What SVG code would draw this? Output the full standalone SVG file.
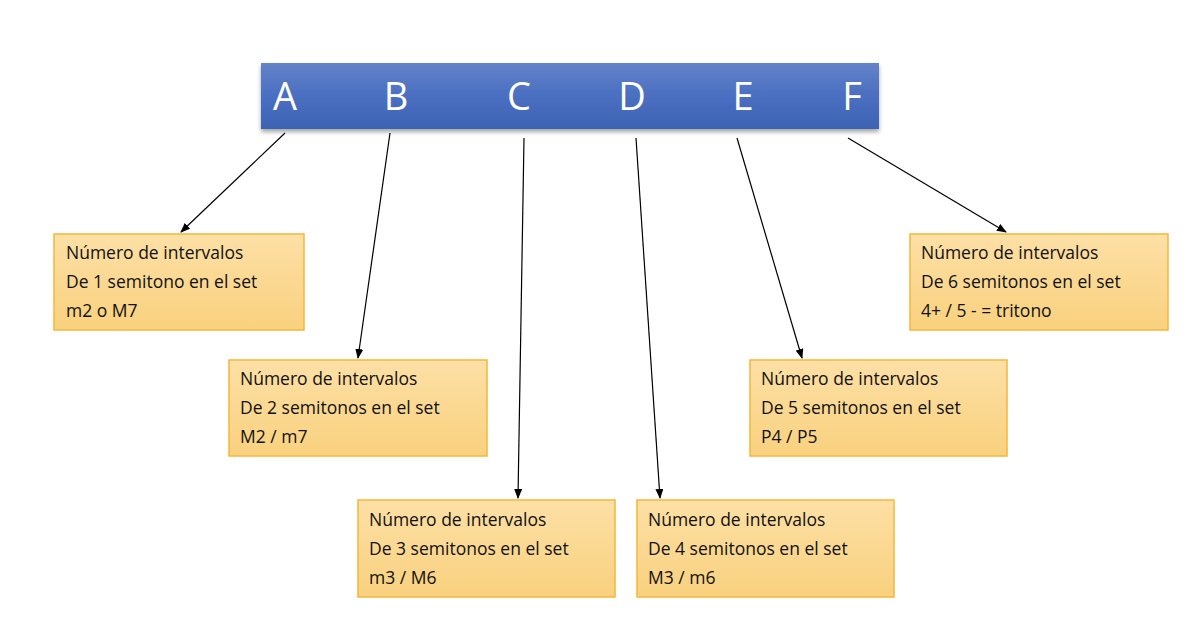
<svg xmlns="http://www.w3.org/2000/svg" width="1200" height="630" viewBox="0 0 1200 630">
<defs>
<linearGradient id="bg" x1="0" y1="0" x2="0" y2="1"><stop offset="0" stop-color="#6383c9"/><stop offset="0.5" stop-color="#4a6fc1"/><stop offset="1" stop-color="#3c63b3"/></linearGradient>
<linearGradient id="og" x1="0" y1="0" x2="0" y2="1"><stop offset="0" stop-color="#fde0a6"/><stop offset="1" stop-color="#f9d17e"/></linearGradient>
<filter id="sh" x="-5%" y="-20%" width="110%" height="150%"><feDropShadow dx="0" dy="3" stdDeviation="2" flood-opacity="0.35"/></filter>
<marker id="ar" markerWidth="10" markerHeight="8" refX="9" refY="4" orient="auto" markerUnits="userSpaceOnUse"><path d="M0,0 L10,4 L0,8 z" fill="#000"/></marker>
</defs>
<style>
.box{fill:url(#og);stroke:#f5b73a;stroke-width:1.5}
.t{font-family:"Open Sans","Noto Sans",sans-serif;font-size:17.5px;fill:#111}
.h{font-family:"Open Sans","Noto Sans",sans-serif;font-size:38px;fill:#fff}
.c{stroke:#000;stroke-width:1.2;fill:none;marker-end:url(#ar)}
</style>
<rect width="1200" height="630" fill="#fff"/>
<g id="header">
<rect x="261" y="63" width="618" height="66" fill="url(#bg)" filter="url(#sh)"/>
<text class="h" x="285" y="110" text-anchor="middle">A</text>
<text class="h" x="396" y="110" text-anchor="middle">B</text>
<text class="h" x="519" y="110" text-anchor="middle">C</text>
<text class="h" x="632" y="110" text-anchor="middle">D</text>
<text class="h" x="743" y="110" text-anchor="middle">E</text>
<text class="h" x="852" y="110" text-anchor="middle">F</text>
</g>
<g id="connectors">
<line class="c" x1="285" y1="133" x2="181" y2="232"/>
<line class="c" x1="390" y1="133" x2="358" y2="358"/>
<line class="c" x1="524" y1="138" x2="518" y2="498"/>
<line class="c" x1="636" y1="138" x2="660" y2="498"/>
<line class="c" x1="737" y1="138" x2="802" y2="358"/>
<line class="c" x1="848" y1="138" x2="1006" y2="232"/>
</g>
<g id="n1"><rect class="box" x="54" y="234" width="250" height="96"/>
<text class="t" x="66" y="259">Número de intervalos</text><text class="t" x="66" y="288">De 1 semitono en el set</text><text class="t" x="66" y="317">m2 o M7</text></g>
<g id="n2"><rect class="box" x="229" y="360" width="258" height="96"/>
<text class="t" x="240" y="385">Número de intervalos</text><text class="t" x="240" y="414">De 2 semitonos en el set</text><text class="t" x="240" y="443">M2 / m7</text></g>
<g id="n3"><rect class="box" x="358" y="500" width="257" height="97"/>
<text class="t" x="369" y="526">Número de intervalos</text><text class="t" x="369" y="555">De 3 semitonos en el set</text><text class="t" x="369" y="584">m3 / M6</text></g>
<g id="n4"><rect class="box" x="637" y="500" width="257" height="97"/>
<text class="t" x="648" y="526">Número de intervalos</text><text class="t" x="648" y="555">De 4 semitonos en el set</text><text class="t" x="648" y="584">M3 / m6</text></g>
<g id="n5"><rect class="box" x="750" y="360" width="257" height="96"/>
<text class="t" x="761" y="385">Número de intervalos</text><text class="t" x="761" y="414">De 5 semitonos en el set</text><text class="t" x="761" y="443">P4 / P5</text></g>
<g id="n6"><rect class="box" x="910" y="234" width="258" height="96"/>
<text class="t" x="921" y="259">Número de intervalos</text><text class="t" x="921" y="288">De 6 semitonos en el set</text><text class="t" x="921" y="317">4+ / 5 - = tritono</text></g>
</svg>
